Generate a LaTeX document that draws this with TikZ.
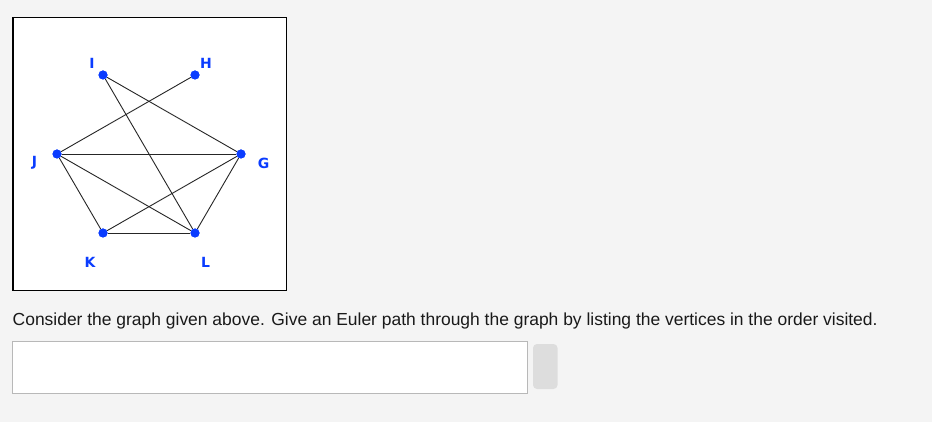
\documentclass[tikz,border=0pt]{standalone}
\usepackage{fontspec}
\setmainfont{Liberation Sans}
\newfontfamily\labelfont{DejaVu Sans}
\usepackage{xcolor}
\usetikzlibrary{positioning}
\definecolor{pagebg}{HTML}{F4F4F4}
\definecolor{vblue}{HTML}{0A3CFF}
\definecolor{fieldline}{HTML}{B8B8B8}
\definecolor{btngray}{HTML}{DDDDDD}

\tikzset{
  vertex/.style={circle, fill=vblue, inner sep=0pt, minimum size=9pt},
  vlabel/.style={text=vblue, font=\fontsize{14}{15}\labelfont\bfseries, inner sep=0pt},
  edge/.style={line width=0.9pt, draw=black!85}
}

\begin{document}
\begin{tikzpicture}[x=1pt, y=-1pt]
      % page %
      \fill[pagebg] (0,0) rectangle (932,422);
      \useasboundingbox (0,0) rectangle (932,422);
      \draw[fill=white, line width=1.3pt] (13,17.5) rectangle (286.5,290.5);
      % vertices %
      \node[vertex] (i) at (103,75) {};
      \node[vertex] (h) at (195,75) {};
      \node[vertex] (j) at (57,154) {};
      \node[vertex] (g) at (241,154) {};
      \node[vertex] (k) at (103,233) {};
      \node[vertex] (l) at (195,233) {};
      % labels %
      \node[vlabel] (li) at (92,63) {I};
      \node[vlabel] (lh) at (206,63) {H};
      \node[vlabel] (lj) at (34.5,162.5) {J};
      \node[vlabel] (lg) at (263.5,163) {G};
      \node[vlabel] (lk) at (90,262) {K};
      \node[vlabel] (ll) at (205.5,262) {L};
      % edges %
      \draw[edge] (i) -- (g);
      \draw[edge] (i) -- (l);
      \draw[edge] (h) -- (j);
      \draw[edge] (j) -- (g);
      \draw[edge] (j) -- (k);
      \draw[edge] (j) -- (l);
      \draw[edge] (k) -- (g);
      \draw[edge] (k) -- (l);
      \draw[edge] (l) -- (g);
      \foreach \v in {i,h,j,g,k,l} \node[vertex] at (\v) {};
      % question %
      \node[anchor=west, inner sep=0pt, font=\fontsize{17.45}{20}\selectfont, text=black!90] (q) at (12.5,321)
        {Consider the graph given above. Give an Euler path through the graph by listing the vertices in the order visited.};
      \draw[fill=white, draw=fieldline, line width=1pt] (12.5,341.5) rectangle (527.5,393);
      \fill[btngray, rounded corners=4pt] (533,344) rectangle (557.5,389);
    \end{tikzpicture}
\end{document}
